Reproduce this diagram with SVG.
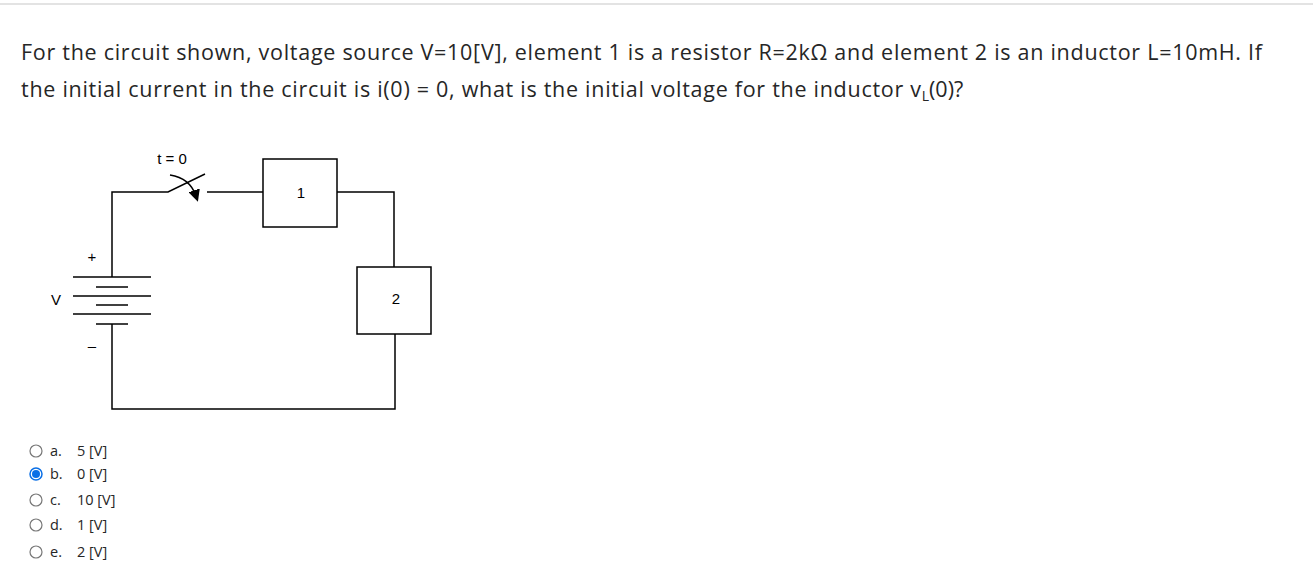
<svg xmlns="http://www.w3.org/2000/svg" width="1313" height="567" viewBox="0 0 1313 567">
<style>
.q{font-family:"Open Sans","Noto Sans",sans-serif;font-size:21.5px;fill:#262626}
.c{font-family:"Liberation Sans",Arial,sans-serif;font-size:15px;fill:#000}
.w{stroke:#000;stroke-width:1.5;fill:none}
.o{font-family:"Open Sans","Noto Sans",sans-serif;font-size:14.5px;fill:#262626}
.r{fill:#fff;stroke:#777;stroke-width:1.2}
</style>
<defs><marker id="ah" markerWidth="8" markerHeight="8" refX="4" refY="4" orient="auto"><path d="M0,0 L8,4 L0,8 z" fill="#000"/></marker></defs>
<rect width="1313" height="567" fill="#fff"/>
<line x1="0" y1="4" x2="1313" y2="4" stroke="#e3e3e3" stroke-width="2"/>
<text class="q" x="21" y="60" textLength="1241" lengthAdjust="spacing">For the circuit shown, voltage source V=10[V], element 1 is a resistor R=2kΩ and element 2 is an inductor L=10mH.  If</text>
<text class="q" x="21" y="97"><tspan textLength="900" lengthAdjust="spacing">the initial current in the circuit is i(0) = 0, what is the initial voltage for the inductor v</tspan><tspan font-size="14" dy="4">L</tspan><tspan dy="-4">(0)?</tspan></text>
<g id="connectors">
<polyline class="w" points="112,277 112,192 168,192 205,174"/>
<line class="w" x1="207" y1="192" x2="263" y2="192"/>
<polyline class="w" points="337,192 394,192 394,267"/>
<polyline class="w" points="395,334 395,409 112,409 112,324"/>
<path class="w" d="M170,175 Q190,178 196,196" marker-end="url(#ah)"/>
</g>
<g id="source">
<line class="w" x1="73" y1="277" x2="151" y2="277"/>
<line class="w" x1="96" y1="287" x2="128" y2="287"/>
<line class="w" x1="73" y1="296" x2="151" y2="296"/>
<line class="w" x1="96" y1="305" x2="128" y2="305"/>
<line class="w" x1="73" y1="314" x2="151" y2="314"/>
<line class="w" x1="96" y1="324" x2="128" y2="324"/>
<text class="c" x="92" y="262" text-anchor="middle" font-size="12">+</text>
<text class="c" x="92" y="351" text-anchor="middle" font-size="12">–</text>
<text class="c" x="56" y="305" text-anchor="middle">V</text>
</g>
<g id="switch"><text class="c" x="172" y="164" text-anchor="middle">t = 0</text></g>
<g id="element1"><rect class="w" x="263" y="159" width="74" height="68"/><text class="c" x="301" y="198" text-anchor="middle">1</text></g>
<g id="element2"><rect class="w" x="357" y="267" width="74" height="67"/><text class="c" x="396" y="304" text-anchor="middle">2</text></g>
<g id="options">
<circle class="r" cx="36" cy="451" r="6"/><text class="o" x="50" y="456">a.</text><text class="o" x="77" y="456">5 [V]</text>
<circle cx="36" cy="474" r="6" fill="#fff" stroke="#0a6fe6" stroke-width="1.5"/><circle cx="36" cy="474" r="4" fill="#0a6fe6"/><text class="o" x="50" y="479">b.</text><text class="o" x="77" y="479">0 [V]</text>
<circle class="r" cx="36" cy="500" r="6"/><text class="o" x="50" y="505">c.</text><text class="o" x="77" y="505">10 [V]</text>
<circle class="r" cx="36" cy="525" r="6"/><text class="o" x="50" y="530">d.</text><text class="o" x="77" y="530">1 [V]</text>
<circle class="r" cx="36" cy="552" r="6"/><text class="o" x="50" y="557">e.</text><text class="o" x="77" y="557">2 [V]</text>
</g>
</svg>
